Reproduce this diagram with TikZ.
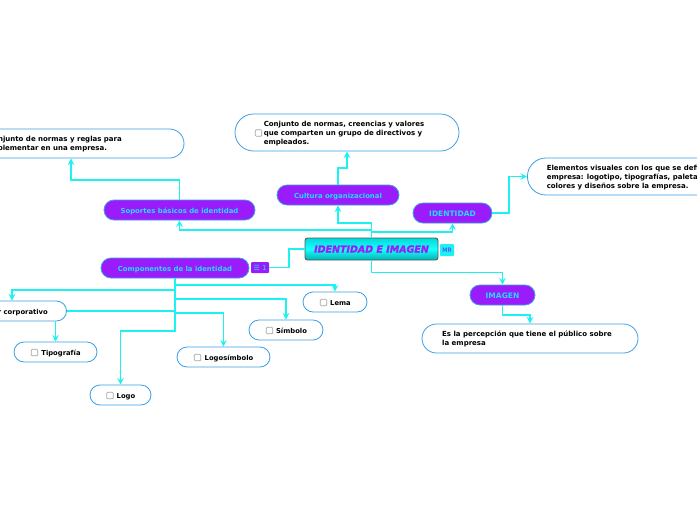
\documentclass[tikz,border=0pt]{standalone}
\usepackage{fontspec}
\setmainfont{DejaVu Sans}
\newfontfamily\rootfont[FakeBold=2]{DejaVu Sans Bold Oblique}
\usepackage{xcolor}
\usetikzlibrary{shapes.misc, positioning}

\definecolor{linkcyan}{HTML}{1CF2F2}
\definecolor{nodepurple}{HTML}{9A1CFA}
\definecolor{edgeblue}{HTML}{3A9FE6}
\definecolor{labelcyan}{HTML}{22DDFF}

\newcommand{\topgap}{\rule{0pt}{8.3pt}}

\tikzset{
  topic/.style={rounded rectangle, draw=edgeblue, line width=0.8pt, fill=nodepurple, text=labelcyan, inner sep=0pt, minimum height=20pt, text height=6pt, text depth=0pt, font=\bfseries\fontsize{6.9}{8}\selectfont},
  capstopic/.style={topic, font=\bfseries\fontsize{7.5}{8}\selectfont},
  note/.style={rounded rectangle, draw=edgeblue, line width=0.8pt, fill=white, text=black, inner sep=0pt, font=\bfseries\fontsize{7}{9}\selectfont, align=left},
  leaf/.style={note, minimum height=20pt, text height=6pt, text depth=0pt, font=\bfseries\fontsize{6.8}{9}\selectfont},
  chk/.style={draw=gray!70, fill=white, line width=0.7pt, rounded corners=1pt, minimum size=6.5pt, inner sep=0pt},
  link/.style={draw=linkcyan, line width=1.9pt},
}

\begin{document}
\begin{tikzpicture}[->, >=stealth, x=1pt, y=-1pt]
  \useasboundingbox (0,0) rectangle (697,520);

  % main topic
  \node[rectangle, rounded corners=2.5pt, draw=black!65, line width=0.9pt, top color=cyan!85!black, bottom color=cyan!70!black, middle color=cyan!90, text=nodepurple, minimum width=133pt, minimum height=22pt, inner sep=0pt, text height=7pt, text depth=0pt, font=\rootfont\fontsize{9.5}{10}\selectfont] (root) at (371.5,249) {IDENTIDAD E IMAGEN};
  \node[rectangle, rounded corners=1pt, fill=linkcyan, text=nodepurple!70!blue, minimum width=14pt, minimum height=12pt, inner sep=0pt, font=\fontsize{6}{7}\selectfont] (mr) at (447,250) {MR};

  \node[topic, minimum width=151pt] (soportes) at (179.5,210) {Soportes básicos de identidad};
  \node[topic, minimum width=148pt] (comp) at (175,268) {Componentes de la identidad};
  \node[rectangle, rounded corners=1pt, fill=nodepurple, text=labelcyan, minimum width=18pt, minimum height=11pt, inner sep=0pt, font=\fontsize{7}{7}\selectfont] (tag) at (260,267.5) {☰ 1};
  \node[topic, minimum width=122pt] (cultura) at (338,195) {Cultura organizacional};
  \node[capstopic, minimum width=79pt] (identidad) at (452.5,213) {IDENTIDAD};
  \node[capstopic, minimum width=65pt] (imagen) at (502.5,295) {IMAGEN};

  % long notes
  \node[note, minimum width=226pt, minimum height=29pt] (normas) at (71,143.5) {\begin{tabular}{@{}l@{}}\topgap Conjunto de normas y reglas para\\implementar en una empresa.\end{tabular}\hspace{32pt}};
  \node[note, minimum width=224pt, minimum height=37pt] (creencias) at (347,132.5) {\begin{tabular}{@{}l@{}}\topgap Conjunto de normas, creencias y valores\\que comparten un grupo de directivos y\\empleados.\end{tabular}\hspace{6pt}};
  \node[chk] (chkcreencias) at (258.5,133) {};
  \node[note, minimum height=37pt, minimum width=230pt, anchor=west] (visuales) at (527,176.5) {\begin{tabular}{@{}l@{}}\topgap Elementos visuales con los que se define la\\empresa: logotipo, tipografías, paleta de\\colores y diseños sobre la empresa.\end{tabular}\hspace{20pt}};
  \node[note, minimum width=216pt, minimum height=29pt] (percepcion) at (530,338.5) {\begin{tabular}{@{}l@{}}\topgap Es la percepción que tiene el público sobre\\la empresa\end{tabular}\hspace{6pt}};

  % leaves
  \node[leaf, minimum width=109pt] (color) at (12,311) {\hspace{5pt}Color corporativo};
  \node[leaf, minimum width=83pt] (tipografia) at (55.5,352) {\hspace{11pt}Tipografía};
  \node[chk] (chktipografia) at (34.5,352.5) {};
  \node[leaf, minimum width=61pt] (logo) at (120.5,395) {\hspace{11pt}Logo};
  \node[chk] (chklogo) at (110,395.5) {};
  \node[leaf, minimum width=93pt] (logosimbolo) at (223.5,357) {\hspace{11pt}Logosímbolo};
  \node[chk] (chklogosimbolo) at (197.5,357.5) {};
  \node[leaf, minimum width=74pt] (simbolo) at (286,330) {\hspace{11pt}Símbolo};
  \node[chk] (chksimbolo) at (269.5,330.5) {};
  \node[leaf, minimum width=64pt] (lema) at (335,302) {\hspace{11pt}Lema};
  \node[chk] (chklema) at (323.5,302.5) {};

  % connectors from the main topic
  \draw[link] (root.north) -- ++(0,-15) -| (cultura.south);
  \draw[link] (root.north) -- ++(0,-8) -| (soportes.south);
  \draw[link] (root.north) -- ++(0,-6) -| (identidad.south);
  \draw[link] (root.south) -- ++(0,12) -| (imagen.north);
  \draw[link, -] (root.west) -- ++(-16,0) |- (tag.east);

  % second level
  \draw[link] (soportes.north) -- ++(0,-20) -| (normas.south);
  \draw[link] (cultura.north) -- ++(0,-17) -| (creencias.south);
  \draw[link] (identidad.east) -- ++(17,0) |- (visuales.west);
  \draw[link] (imagen.south) -- ++(0,10) -| (percepcion.north);

  % components
  \draw[link] (comp.south) -- ++(0,7) -| (lema.north);
  \draw[link] (comp.south) -- ++(0,12) -| (color.north);
  \draw[link] (comp.south) -- ++(0,21) -| (simbolo.north);
  \draw[link] (comp.south) -- ++(0,35) -| (logosimbolo.north);
  \draw[link] (comp.south) -- ++(0,53) -| (logo.north);
  \draw[link, -] (color.east) -- (comp.south |- color.east);
  \draw[link] (color.south -| tipografia.north) -- (tipografia.north);
\end{tikzpicture}
\end{document}
